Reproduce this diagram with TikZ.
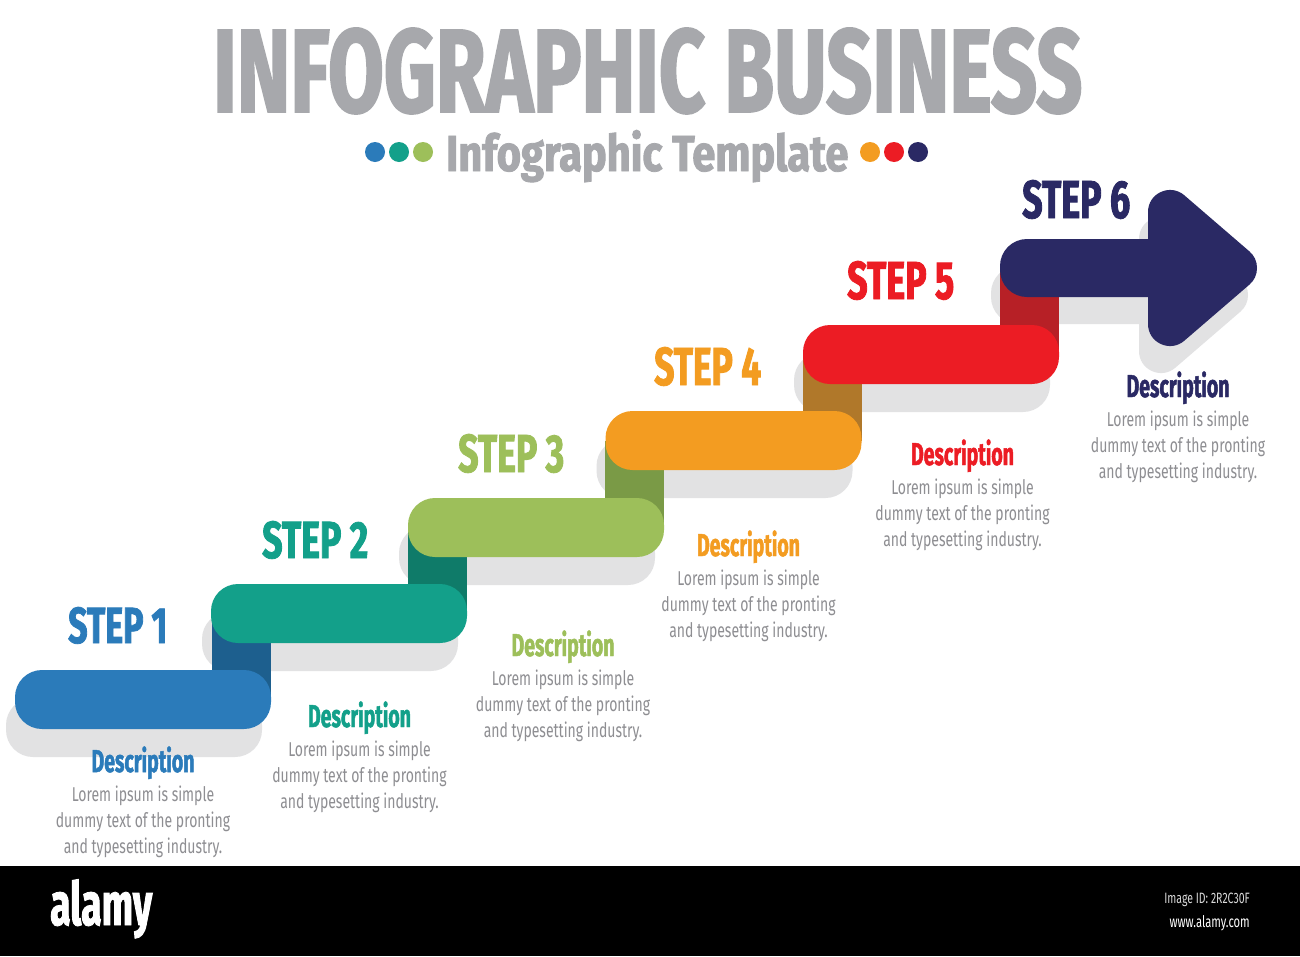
\documentclass[tikz,border=0pt]{standalone}
\usepackage{fontspec}
\usepackage{graphicx}
\newfontfamily\headfont{Fira Sans}[FakeStretch=0.62, FakeBold=1.5]
\newfontfamily\bodyfont{Fira Sans}[FakeStretch=0.70]
\definecolor{cblue}{HTML}{2B7BBA}
\definecolor{cblueD}{HTML}{1D5F8E}
\definecolor{cteal}{HTML}{13A08A}
\definecolor{ctealD}{HTML}{0F7B69}
\definecolor{cgreen}{HTML}{9DBF5A}
\definecolor{cgreenD}{HTML}{7A9A46}
\definecolor{corange}{HTML}{F39C21}
\definecolor{corangeD}{HTML}{B0782A}
\definecolor{cred}{HTML}{EC1C24}
\definecolor{credD}{HTML}{B72026}
\definecolor{cnavy}{HTML}{2A2964}
\definecolor{shadowgray}{HTML}{E2E2E3}
\definecolor{titlegray}{HTML}{A7A8AC}
\definecolor{bodygray}{HTML}{8E8E92}
\newcommand\fitxy[3]{\resizebox{#1pt}{#2pt}{#3}}
\newcommand\fitw[2]{\resizebox{#1pt}{!}{#2}}
\tikzset{
  bar/.style={minimum width=256pt, minimum height=59pt, rounded corners=27pt, inner sep=0pt, draw=none},
  lab/.style={inner sep=0pt, anchor=base west},
  head/.style={inner sep=0pt, anchor=base},
  bodyline/.style={inner sep=0pt, anchor=base, text=bodygray, font=\bodyfont\fontsize{20}{24}\selectfont},
  dot/.style={circle, inner sep=0pt, minimum size=20pt},
  arrowhead/.style={line width=44pt, line join=round},
}
\newcommand\descblock[4]{% name, x, baseline y, color
  \node[head, text=#4] (d#1) at (#2,#3) {\fitw{103}{\headfont\bfseries Description}};
  \node[bodyline] (l#1a) at (#2,#3+29) {Lorem ipsum is simple};
  \node[bodyline] (l#1b) at (#2,#3+55) {dummy text of the pronting};
  \node[bodyline] (l#1c) at (#2,#3+81) {and typesetting industry.};
}
\begin{document}
\begin{tikzpicture}[x=1pt,y=-1pt]
\useasboundingbox (0,0) rectangle (1300,956);
\fill[white] (0,0) rectangle (1300,956);

% title
\node[inner sep=0pt, anchor=base west, text=titlegray] (title) at (213,112)
  {\fitxy{869}{84}{\headfont\bfseries INFOGRAPHIC BUSINESS}};
\node[inner sep=0pt, anchor=base west, text=titlegray] (subtitle) at (446,171)
  {\fitxy{402}{41}{\headfont\bfseries Infographic Template}};
\node[dot, fill=cblue] (dotA) at (375,152) {};
\node[dot, fill=cteal] (dotB) at (399,152) {};
\node[dot, fill=cgreen] (dotC) at (423,152) {};
\node[dot, fill=corange] (dotD) at (870,152) {};
\node[dot, fill=cred] (dotE) at (894,152) {};
\node[dot, fill=cnavy] (dotF) at (918,152) {};

% shadows
\node[bar, fill=shadowgray] (s1) at (134,727.5) {};
\node[bar, fill=shadowgray] (s2) at (330,641.5) {};
\node[bar, fill=shadowgray] (s3) at (527,555.5) {};
\node[bar, fill=shadowgray] (s4) at (724.5,468.5) {};
\node[bar, fill=shadowgray] (s5) at (922,382.5) {};
\begin{scope}[shift={(-9,27)}]
  \fill[shadowgray, rounded corners=27pt] (1000,239) rectangle (1190,297);
  \filldraw[shadowgray, arrowhead] (1170,212) -- (1235,268) -- (1170,324) -- cycle;
\end{scope}

% links
\fill[cblueD] (212,613.5) rectangle (271,699.5);
\fill[ctealD] (408,527.5) rectangle (467,613.5);
\fill[cgreenD] (605,440.5) rectangle (664,527.5);
\fill[corangeD] (803,354.5) rectangle (862,440.5);
\fill[credD] (1000,268) rectangle (1059,354.5);

% bars
\node[bar, fill=cblue] (b1) at (143,699.5) {};
\node[bar, fill=cteal] (b2) at (339,613.5) {};
\node[bar, fill=cgreen] (b3) at (536,527.5) {};
\node[bar, fill=corange] (b4) at (733.5,440.5) {};
\node[bar, fill=cred] (b5) at (931,354.5) {};
% arrow
\fill[cnavy, rounded corners=27pt] (1000,239) rectangle (1190,297);
\filldraw[cnavy, arrowhead] (1170,212) -- (1235,268) -- (1170,324) -- cycle;

% step labels
\node[lab, text=cblue] (st1) at (68,643) {\fitxy{99}{36}{\headfont\bfseries STEP 1}};
\node[lab, text=cteal] (st2) at (262,558) {\fitxy{106}{37}{\headfont\bfseries STEP 2}};
\node[lab, text=cgreen] (st3) at (458,472) {\fitxy{106}{38}{\headfont\bfseries STEP 3}};
\node[lab, text=corange] (st4) at (654,385) {\fitxy{107}{38}{\headfont\bfseries STEP 4}};
\node[lab, text=cred] (st5) at (847,299) {\fitxy{107}{38}{\headfont\bfseries STEP 5}};
\node[lab, text=cnavy] (st6) at (1022,218) {\fitxy{108}{38}{\headfont\bfseries STEP 6}};

% descriptions
\descblock{1}{143}{772}{cblue}
\descblock{2}{359.5}{727}{cteal}
\descblock{3}{563}{656}{cgreen}
\descblock{4}{748.5}{556}{corange}
\descblock{5}{962.5}{465}{cred}
\descblock{6}{1178}{397}{cnavy}

% bottom bar
\fill[black] (0,866) rectangle (1300,956);
\node[inner sep=0pt, anchor=base west, text=white] (brand) at (50,925)
  {\fitw{102}{\headfont\bfseries alamy}};
\node[inner sep=0pt, anchor=base east, text=white!85!black, font=\bodyfont\fontsize{15}{17}\selectfont] (imgid) at (1250,903) {Image ID: 2R2C30F};
\node[inner sep=0pt, anchor=base east, text=white, font=\bodyfont\fontsize{16}{18}\selectfont] (url) at (1250,927) {www.alamy.com};
\end{tikzpicture}
\end{document}
